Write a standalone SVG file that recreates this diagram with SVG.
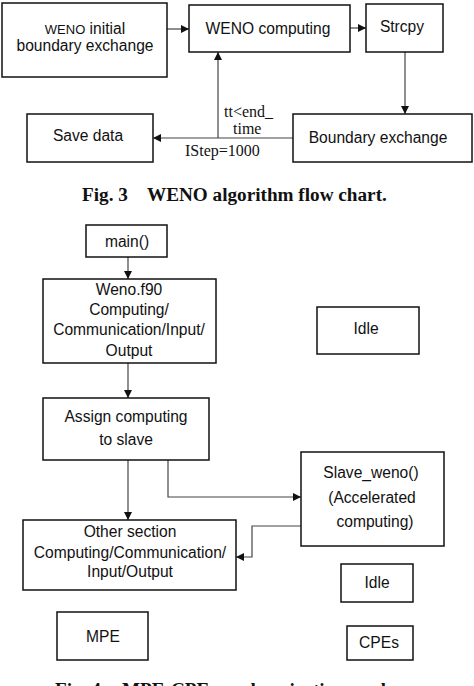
<svg xmlns="http://www.w3.org/2000/svg" width="474" height="686" viewBox="0 0 474 686">
<style>
.box{fill:#fff;stroke:#111;stroke-width:1.5}
.t{font-family:"Liberation Sans",Arial,sans-serif;font-size:15.6px;fill:#111;text-anchor:middle}
.s{font-family:"Liberation Serif","Times New Roman",serif;font-size:16px;fill:#111}
.cap{font-family:"Liberation Serif","Times New Roman",serif;font-size:19.2px;font-weight:bold;fill:#111}
.c{fill:none;stroke:#444;stroke-width:1.2}
</style>
<defs>
<marker id="ah" viewBox="0 0 10 10" refX="10" refY="5" markerWidth="8" markerHeight="8" markerUnits="userSpaceOnUse" orient="auto">
<path d="M0,0 L10,5 L0,10 z" fill="#111"/>
</marker>
</defs>
<rect width="474" height="686" fill="#fff"/>

<g id="connectors">
<line class="c" x1="167" y1="29" x2="189" y2="29" marker-end="url(#ah)"/>
<line class="c" x1="350" y1="28" x2="366" y2="28" marker-end="url(#ah)"/>
<line class="c" x1="405" y1="52" x2="405" y2="114" marker-end="url(#ah)"/>
<line class="c" x1="293" y1="138" x2="153" y2="138" marker-end="url(#ah)"/>
<polyline class="c" points="218,138 218,52" marker-end="url(#ah)"/>
<line class="c" x1="128" y1="257" x2="128" y2="279" marker-end="url(#ah)"/>
<line class="c" x1="128" y1="363" x2="128" y2="398" marker-end="url(#ah)"/>
<line class="c" x1="128" y1="460" x2="128" y2="520" marker-end="url(#ah)"/>
<polyline class="c" points="168,460 168,497 301,497" marker-end="url(#ah)"/>
<polyline class="c" points="301,526 252,526 252,557 236,557" marker-end="url(#ah)"/>
<text class="s" x="224" y="117">tt&lt;end_</text>
<text class="s" x="233" y="134">time</text>
<text class="s" x="185" y="156">IStep=1000</text>
</g>

<g id="n-init">
<rect class="box" x="2" y="3" width="165" height="74"/>
<text class="t" x="85" y="34"><tspan font-size="13">WENO</tspan> initial</text>
<text class="t" x="85" y="50.5">boundary exchange</text>
</g>
<g id="n-weno">
<rect class="box" x="189" y="5" width="161" height="47"/>
<text class="t" x="268" y="33.5">WENO computing</text>
</g>
<g id="n-strcpy">
<rect class="box" x="366" y="4" width="77" height="48"/>
<text class="t" x="402" y="32">Strcpy</text>
</g>
<g id="n-boundary">
<rect class="box" x="293" y="114" width="179" height="48"/>
<text class="t" x="378" y="143">Boundary exchange</text>
</g>
<g id="n-save">
<rect class="box" x="27" y="114" width="126" height="48"/>
<text class="t" x="88" y="141">Save data</text>
</g>
<g id="cap3">
<text class="cap" x="82" y="201">Fig. 3</text>
<text class="cap" x="147" y="201">WENO algorithm flow chart.</text>
</g>

<g id="n-main">
<rect class="box" x="86" y="225" width="81" height="32"/>
<text class="t" x="127" y="247">main()</text>
</g>
<g id="n-wenof90">
<rect class="box" x="43" y="279" width="173" height="84"/>
<text class="t" x="129" y="295">Weno.f90</text>
<text class="t" x="129" y="315">Computing/</text>
<text class="t" x="129" y="335">Communication/Input/</text>
<text class="t" x="129" y="356">Output</text>
</g>
<g id="n-idle1">
<rect class="box" x="317" y="307" width="102" height="47"/>
<text class="t" x="366" y="334">Idle</text>
</g>
<g id="n-assign">
<rect class="box" x="43" y="398" width="166" height="62"/>
<text class="t" x="126" y="422">Assign computing</text>
<text class="t" x="126" y="445">to slave</text>
</g>
<g id="n-slave">
<rect class="box" x="301" y="452" width="143" height="94"/>
<text class="t" x="371" y="478">Slave_weno()</text>
<text class="t" x="372" y="503">(Accelerated</text>
<text class="t" x="375" y="527">computing)</text>
</g>
<g id="n-other">
<rect class="box" x="23" y="520" width="213" height="70"/>
<text class="t" x="130" y="537">Other section</text>
<text class="t" x="130" y="558">Computing/Communication/</text>
<text class="t" x="130" y="577">Input/Output</text>
</g>
<g id="n-idle2">
<rect class="box" x="341" y="564" width="72" height="38"/>
<text class="t" x="377" y="588">Idle</text>
</g>
<g id="n-mpe">
<rect class="box" x="57" y="612" width="91" height="48"/>
<text class="t" x="103" y="642">MPE</text>
</g>
<g id="n-cpes">
<rect class="box" x="347" y="626" width="66" height="34"/>
<text class="t" x="379" y="648">CPEs</text>
</g>
<g id="cap4">
<text class="cap" x="55" y="696">Fig. 4</text>
<text class="cap" x="122" y="696">MPE-CPE synchronization mode</text>
</g>
</svg>
